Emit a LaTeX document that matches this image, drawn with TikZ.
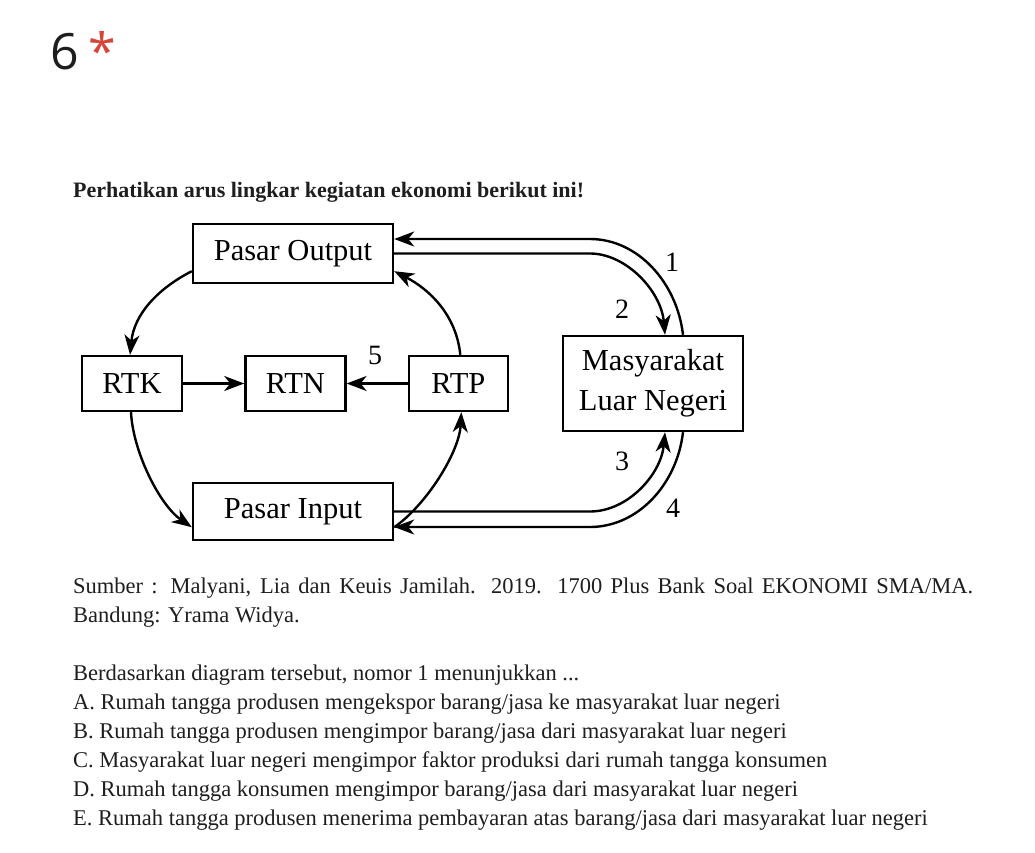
\documentclass[tikz,border=0pt]{standalone}
\usepackage{fontspec}
\setmainfont{Liberation Serif}
\newfontfamily\numfont{Open Sans}
\usetikzlibrary{arrows.meta,positioning}
\definecolor{starred}{RGB}{214,69,56}
\definecolor{inkgray}{RGB}{30,30,30}

\begin{document}
\begin{tikzpicture}[x=1pt, y=-1pt,
  box/.style={draw, line width=2.4pt, minimum height=55pt, inner sep=0pt,
              font=\fontsize{30.5}{40}\selectfont},
  flow/.style={line width=2.4pt, -{Stealth[length=20pt,width=15pt,inset=6pt]}},
  num/.style={inner sep=0pt, font=\fontsize{28}{30}\selectfont},
  txt/.style={anchor=base west, inner sep=0pt, text=inkgray,
              font=\fontsize{22.5}{26}\selectfont}]
\useasboundingbox (0,0) rectangle (1035,853);
% question number
\node[anchor=base west, inner sep=0pt, text=inkgray, font=\numfont\fontsize{50}{50}\selectfont] (qno) at (50,70) {6};
\node[anchor=base west, inner sep=0pt, text=starred, font=\numfont\fontsize{50}{50}\selectfont] (star) at (88,70) {*};
\node[txt, font=\bfseries\fontsize{22}{26}\selectfont] (title) at (73,197) {Perhatikan arus lingkar kegiatan ekonomi berikut ini!};
% boxes
\node[box, minimum width=200pt, minimum height=59pt] (pout) at (293,253.5) {Pasar Output};
\node[box, minimum width=100pt] (rtk) at (132,383.5) {RTK};
\node[box, minimum width=100pt, right=61pt of rtk] (rtn) {RTN};
\node[box, minimum width=99pt, right=61pt of rtn] (rtp) {RTP};
\node[box, minimum width=180pt, minimum height=95pt, align=center] (mln) at (653,383.5) {Masyarakat\\Luar Negeri};
\node[box, minimum width=200pt, minimum height=57pt] (pin) at (293,511.5) {Pasar Input};
% inner circle
\draw[flow] ([yshift=13pt]pout.south west) .. controls +(-35,18) and +(4,-40) .. ([xshift=-2pt]rtk.north);
\draw[flow] ([xshift=-1pt]rtk.south) .. controls +(2,40) and +(-32,-22) .. ([yshift=14pt]pin.south west);
\draw[flow] ([yshift=14pt]pin.south east) .. controls +(32,-22) and +(-2,40) .. ([xshift=3pt]rtp.south);
\draw[flow] ([xshift=2pt]rtp.north) .. controls +(-4,-40) and +(35,18) .. ([yshift=13pt]pout.south east);
\draw[flow] (rtk) -- (rtn);
\draw[flow] (rtp) -- (rtn);
\node[num] (n5) at (375,355) {5};
% foreign flows
\draw[flow] ([xshift=30pt]mln.north) .. controls +(-6,-52) and +(48,0) .. (590,239) -- ([yshift=14.5pt]pout.east);
\draw[flow] (pout.east) -- (590,253.5) .. controls +(36,0) and +(-4,-44) .. ([xshift=12pt]mln.north);
\draw[flow] (pin.east) -- (590,511.5) .. controls +(38,0) and +(-4,42) .. ([xshift=12pt]mln.south);
\draw[flow] ([xshift=30pt]mln.south) .. controls +(-6,52) and +(48,0) .. (590,527) -- ([yshift=-15.5pt]pin.east);
\node[num] (n1) at (672,262) {1};
\node[num] (n2) at (622,309) {2};
\node[num] (n3) at (622,461) {3};
\node[num] (n4) at (673,508) {4};
% source and question
\node[txt] (src1) at (73,593) {\makebox[900pt][s]{Sumber : Malyani, Lia dan Keuis Jamilah. 2019. 1700 Plus Bank Soal EKONOMI SMA/MA.}};
\node[txt] (src2) at (73,622) {Bandung: Yrama Widya.};
\node[txt] (ask) at (73,680) {Berdasarkan diagram tersebut, nomor 1 menunjukkan ...};
\node[txt] (optA) at (73,709) {A. Rumah tangga produsen mengekspor barang/jasa ke masyarakat luar negeri};
\node[txt] (optB) at (73,738) {B. Rumah tangga produsen mengimpor barang/jasa dari masyarakat luar negeri};
\node[txt] (optC) at (73,767) {C. Masyarakat luar negeri mengimpor faktor produksi dari rumah tangga konsumen};
\node[txt] (optD) at (73,796) {D. Rumah tangga konsumen mengimpor barang/jasa dari masyarakat luar negeri};
\node[txt] (optE) at (73,825) {E. Rumah tangga produsen menerima pembayaran atas barang/jasa dari masyarakat luar negeri};
\end{tikzpicture}
\end{document}
